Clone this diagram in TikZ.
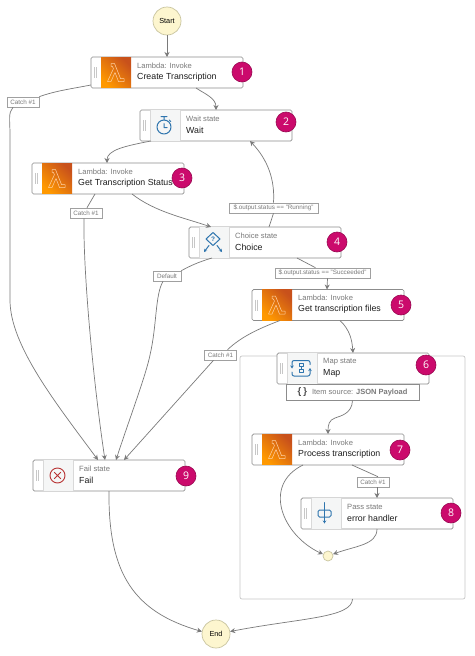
\documentclass[tikz,border=0pt]{standalone}
\usepackage{fontspec}
\setmainfont{Liberation Sans}
\newfontfamily\badgefont{Open Sans}
\usetikzlibrary{arrows.meta}
\definecolor{edgegray}{HTML}{7A7A7A}
\definecolor{boxline}{HTML}{8C8C8C}
\definecolor{labelline}{HTML}{A0A0A0}
\definecolor{iconblue}{HTML}{2F75AE}
\definecolor{startfill}{HTML}{FDF6CF}
\definecolor{startline}{HTML}{C9C5A0}
\definecolor{badgecol}{HTML}{CB0A6C}
\definecolor{subtext}{HTML}{7A7A7A}
\definecolor{maintext}{HTML}{1E1E1E}
\definecolor{panelgray}{HTML}{F5F6F6}
\definecolor{lamdark}{HTML}{C8511B}
\definecolor{lamlight}{HTML}{FF9900}
\tikzset{
  statebox/.style={draw=boxline,line width=.7pt,rounded corners=1.5pt,minimum width=152pt,minimum height=31pt,inner sep=0pt,outer sep=0pt,fill=white},
  subtitle/.style={anchor=west,inner sep=0pt,font=\fontsize{7.6}{9}\selectfont,text=subtext},
  maintitle/.style={anchor=west,inner sep=0pt,font=\fontsize{8.8}{10}\selectfont,text=maintext},
  badge/.style={circle,fill=badgecol,draw=badgecol!75!black,line width=.6pt,minimum size=20pt,inner sep=0pt,text=white,font=\badgefont\fontsize{10.5}{12}\selectfont},
  terminal/.style={circle,fill=startfill,draw=startline,line width=.7pt,inner sep=0pt,font=\fontsize{7.3}{8}\selectfont,text=black},
  edgelabel/.style={draw=labelline,fill=white,line width=.6pt,inner sep=0pt,minimum height=10pt,font=\fontsize{6.3}{7}\selectfont,text=subtext},
  conn/.style={draw=edgegray,line width=.7pt,-{Stealth[length=5pt,width=5pt]}},
  plainconn/.style={draw=edgegray,line width=.7pt},
  iconline/.style={draw=iconblue,line width=1pt,line cap=round,line join=round},
  smallhead/.style={-{Stealth[length=3pt,width=3.5pt]}},
}
% name, left, top, subtitle, title, icon macro
\newcommand{\stateNode}[6]{%
  \node[statebox] (#1) at (#2+76,#3+15.5) {};
  \draw[black!22,line width=.7pt] (#2+3.5,#3+10) -- (#2+3.5,#3+21) (#2+5.5,#3+10) -- (#2+5.5,#3+21);
  \begin{scope}[shift={(#2+25,#3+15.5)}]#6\end{scope}
  \node[subtitle] (#1sub) at (#2+46,#3+8.5) {#4};
  \node[maintitle] (#1main) at (#2+46,#3+20) {#5};
}
\newcommand{\lambdaIcon}{%
  \shade[left color=lamdark,right color=lamlight,shading angle=-45] (-15,-15.2) rectangle (15,15.2);
  \draw[orange!35!white,line width=.5pt,line join=round] (-5,-9) -- (-1.5,-9) -- (4.5,6) -- (8,6) -- (8,9) -- (2.5,9) -- (-1,0) -- (-5,9) -- (-8.5,9) -- (-2.5,-4) -- (-3.8,-6.2) -- (-5,-6.2) -- cycle;
}
\newcommand{\panelBg}{\fill[panelgray] (-15,-15.1) rectangle (15,15.1);\draw[black!15,line width=.4pt] (-15,-15.2) -- (-15,15.2) (15,-15.2) -- (15,15.2);}
\newcommand{\clockIcon}{\panelBg
  \begin{scope}[xshift=-1pt]
  \draw[iconline] (0,1.5) circle (7);
  \draw[iconline] (-3,-9) -- (3,-9) (0,-9) -- (0,-5.5) (0,-2) -- (0,2) -- (3.2,2) (5.2,-5.5) -- (6.8,-4);
  \end{scope}
}
\newcommand{\choiceIcon}{\panelBg
  \begin{scope}[xshift=-1pt]
  \draw[iconline] (0,-10) -- (7,-3.5) -- (0,3) -- (-7,-3.5) -- cycle;
  \node[inner sep=0pt,text=iconblue,font=\fontsize{6.5}{7}\bfseries\selectfont] at (0,-3.5) {?};
  \draw[iconline,smallhead] (-4,3) -- (-9,9.5);
  \draw[iconline,smallhead] (4,3) -- (9,9.5);
  \end{scope}
}
\newcommand{\mapIcon}{\panelBg
  \begin{scope}[xshift=-1pt]
  \draw[iconline,smallhead,rounded corners=2pt] (9,-4) -- (9,-8) -- (-9,-8) -- (-9,0);
  \draw[iconline,smallhead,rounded corners=2pt] (-9,3.5) -- (-9,7.5) -- (9,7.5) -- (9,-0.5);
  \draw[iconline,line width=.8pt] (-2,-5) rectangle (2,-2) (-2,1) rectangle (2,4) (0,-2) -- (0,1);
  \end{scope}
}
\newcommand{\passIcon}{\panelBg
  \begin{scope}[xshift=-1.5pt]
  \draw[iconline,rounded corners=1.5pt] (-6.5,-3.5) rectangle (6.5,3.5);
  \draw[iconline,smallhead] (0,-11) -- (0,10);
  \end{scope}
}
\newcommand{\failIcon}{\panelBg
  \draw[draw=red!65!black!80,line width=.9pt] (-.5,0) circle (7.5);
  \draw[draw=red!65!black!80,line width=.9pt] (-3.8,-3.3) -- (2.8,3.3) (-3.8,3.3) -- (2.8,-3.3);
}
\begin{document}
\begin{tikzpicture}[x=1pt,y=-1pt]
\useasboundingbox (0,0) rectangle (474,656);
\fill[white] (0,0) rectangle (474,656);
% map container
\node[draw=black!22,line width=.7pt,rounded corners=2pt,minimum width=225pt,minimum height=243pt,inner sep=0pt,outer sep=0pt] (container) at (352.5,477.5) {};
% terminals
\node[terminal,minimum size=28pt] (start) at (167,21) {Start};
\node[terminal,minimum size=28pt] (end) at (216,634) {End};
\node[terminal,minimum size=10pt] (merge) at (328,556) {};
% states
\stateNode{create}{91}{57}{Lambda: Invoke}{Create Transcription}{\lambdaIcon}
\stateNode{wait}{140}{110}{Wait state}{Wait}{\clockIcon}
\stateNode{status}{32}{163}{Lambda: Invoke}{Get Transcription Status}{\lambdaIcon}
\stateNode{choice}{189}{227}{Choice state}{Choice}{\choiceIcon}
\stateNode{files}{252}{289.5}{Lambda: Invoke}{Get transcription files}{\lambdaIcon}
\stateNode{map}{277}{353}{Map state}{Map}{\mapIcon}
\stateNode{process}{252}{434}{Lambda: Invoke}{Process transcription}{\lambdaIcon}
\stateNode{pass}{301}{498}{Pass state}{error handler}{\passIcon}
\stateNode{fail}{33}{460}{Fail state}{Fail}{\failIcon}
% item source
\node[draw=boxline,fill=white,line width=.7pt,minimum width=133pt,minimum height=16pt,inner sep=0pt,outer sep=0pt,font=\fontsize{7.5}{8}\selectfont,text=subtext] (item) at (352.5,392.5) {{\fontsize{9.5}{9}\bfseries\selectfont\textcolor{black!70}{\{\hspace{2pt}\}}}\hspace{5pt}Item source: \textbf{JSON Payload}};
% labels
\node[edgelabel,minimum width=32pt] (catcha) at (23,102) {Catch \#1};
\node[edgelabel,minimum width=32pt] (catchb) at (86,213) {Catch \#1};
\node[edgelabel,minimum width=89pt] (running) at (273.5,208) {\$.output.status == "Running"};
\node[edgelabel,minimum width=28pt] (default) at (167,276) {Default};
\node[edgelabel,minimum width=95pt] (succeeded) at (322.5,273) {\$.output.status == "Succeeded"};
\node[edgelabel,minimum width=32pt] (catchc) at (220.5,355) {Catch \#1};
\node[edgelabel,minimum width=32pt] (catchd) at (373,482) {Catch \#1};
% connectors
\draw[conn] (start) -- (create);
\draw[conn] ([xshift=29pt]create.south) .. controls (205,94) and (216,98) .. (wait.north);
\draw[plainconn] ([yshift=-28pt]create.north west) .. controls (70,89) and (55,91) .. (catcha.north east);
\draw[conn] ([xshift=-10pt]catcha.south) .. controls (8,113) and (10,120) .. (10,135) -- (10,300) .. controls (10,345) and (55,402) .. ([xshift=-11pt]fail.north);
\draw[conn] ([xshift=-65pt]wait.south) .. controls (125,146) and (107,150) .. ([xshift=-1pt]status.north);
\draw[plainconn] ([xshift=-13pt]status.south) -- ([xshift=1pt]catchb.north);
\draw[conn] ([xshift=-2pt]catchb.south) .. controls (83,270) and (93,380) .. ([xshift=-4pt]fail.north);
\draw[conn] ([xshift=24pt]status.south) .. controls (155,212) and (185,218) .. ([xshift=-54pt]choice.north);
\draw[plainconn] ([xshift=4pt]choice.north) -- (running.south);
\draw[conn] (running.north) .. controls (275,180) and (268,160) .. ([xshift=34pt]wait.south);
\draw[plainconn] ([xshift=-53pt]choice.south) .. controls (198,262) and (188,267) .. (default.north east);
\draw[conn] ([xshift=-4pt]default.south) .. controls (155,295) and (157,325) .. (150,355) .. controls (146,375) and (129,420) .. ([xshift=7pt]fail.north);
\draw[plainconn] ([xshift=32pt]choice.south) -- ([xshift=-7pt]succeeded.north);
\draw[conn] ([xshift=5pt]succeeded.south) -- ([xshift=-1pt]files.north);
\draw[plainconn] ([xshift=-48pt]files.south) .. controls (255,330) and (240,338) .. ([xshift=7pt]catchc.north);
\draw[conn] ([xshift=-7pt]catchc.south) -- ([xshift=15pt]fail.north);
\draw[conn] ([xshift=12pt]files.south) .. controls (350,330) and (352,340) .. (map.north);
\draw[conn] (item.south) .. controls (352,414) and (340,416) .. (335,418) .. controls (329,420) and (328,425) .. (process.north);
\draw[conn] ([xshift=-25pt]process.south) .. controls (262,485) and (282,535) .. (merge.160);
\draw[plainconn] ([xshift=24pt]process.south) -- ([xshift=5pt]catchd.north);
\draw[conn] ([xshift=4pt]catchd.south) -- (pass.north);
\draw[conn] (pass.south) .. controls (377,545) and (355,546) .. (merge.20);
\draw[conn] (container.south) .. controls (352,618) and (300,618) .. (end.10);
\draw[conn] (fail.south) .. controls (108,575) and (135,612) .. (end.170);
% badges
\node[badge] (b1) at (242,72) {1};
\node[badge] (b2) at (286,122) {2};
\node[badge] (b3) at (182,178) {3};
\node[badge] (b4) at (337,242) {4};
\node[badge] (b5) at (401,305) {5};
\node[badge] (b6) at (426,365) {6};
\node[badge] (b7) at (400,450) {7};
\node[badge] (b8) at (451,513) {8};
\node[badge] (b9) at (186,476) {9};
\end{tikzpicture}
\end{document}
